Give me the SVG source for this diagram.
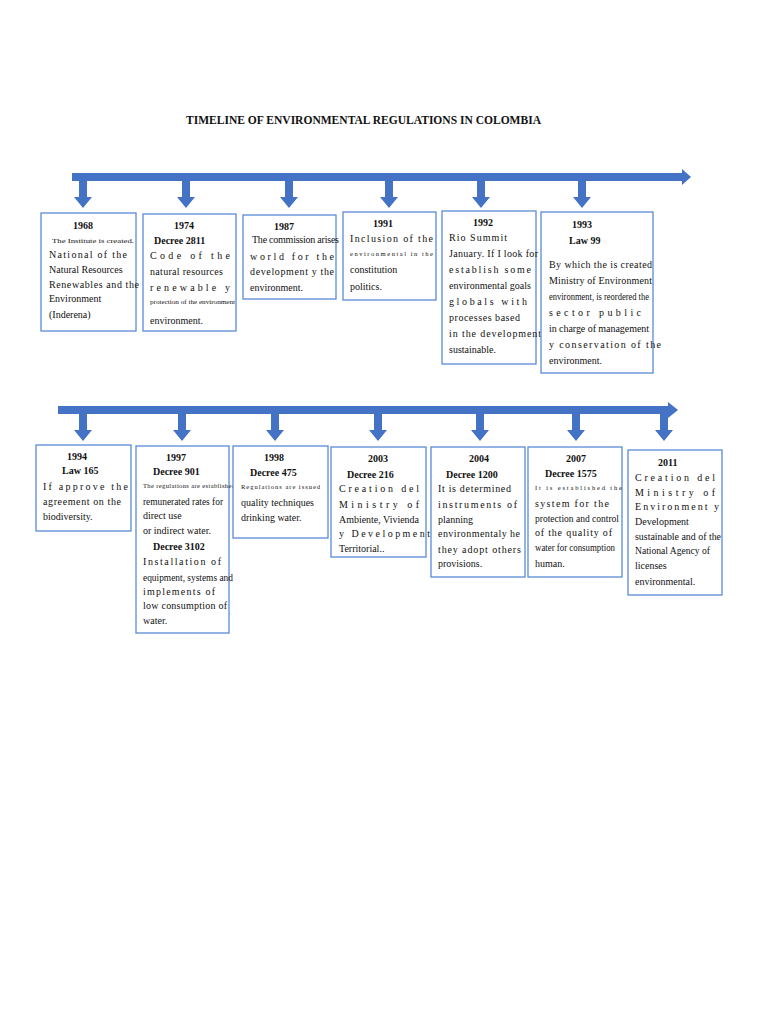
<svg xmlns="http://www.w3.org/2000/svg" width="768" height="1024" viewBox="0 0 768 1024">
<style>
.bar{fill:#4472C4}
.box{fill:#fff;stroke:#5b8ad8;stroke-width:1.3}
text{font-family:"Liberation Serif",serif;font-size:10px;fill:#111}
.b{font-weight:bold}
.s{font-size:6.5px}
.t{font-weight:bold;font-size:13px}
</style>
<defs>
<path id="da" d="M-4,0 h8 v16 h5 l-9,11 l-9,-11 h5 z"/>
</defs>
<rect width="768" height="1024" fill="#fff"/>
<text class="t" x="186" y="124" textLength="355" lengthAdjust="spacingAndGlyphs">TIMELINE OF ENVIRONMENTAL REGULATIONS IN COLOMBIA</text>
<g id="connectors" class="bar">
<path d="M72,173 H682 V169 L691,177 L682,185 V181 H72 z"/>
<use href="#da" x="83" y="181"/><use href="#da" x="186" y="181"/><use href="#da" x="289" y="181"/>
<use href="#da" x="389" y="181"/><use href="#da" x="481" y="181"/><use href="#da" x="582" y="181"/>
<path d="M58,406 H668 V402 L678,410 L668,418 V414 H58 z"/>
<use href="#da" x="83" y="414"/><use href="#da" x="182" y="414"/><use href="#da" x="275" y="414"/>
<use href="#da" x="378" y="414"/><use href="#da" x="480" y="414"/><use href="#da" x="576" y="414"/><use href="#da" x="664" y="414"/>
</g>
<g id="n1968"><rect class="box" x="41" y="213" width="95" height="118"/>
<text class="b" x="73" y="229">1968</text>
<text class="s" x="52" y="243" font-size="7.5" textLength="82" lengthAdjust="spacingAndGlyphs">The Institute is created.</text>
<text x="49" y="258" textLength="78" lengthAdjust="spacing">National of the</text>
<text x="49" y="273">Natural Resources</text>
<text x="49" y="288" textLength="90" lengthAdjust="spacing">Renewables and the</text>
<text x="49" y="302">Environment</text>
<text x="49" y="318">(Inderena)</text></g>
<g id="n1974"><rect class="box" x="143" y="214" width="93" height="117"/>
<text class="b" x="174" y="229">1974</text>
<text class="b" x="154" y="244">Decree 2811</text>
<text x="150" y="259" textLength="80" lengthAdjust="spacing">Code of the</text>
<text x="150" y="275" textLength="73" lengthAdjust="spacing">natural resources</text>
<text x="150" y="291" textLength="80" lengthAdjust="spacing">renewable y</text>
<text class="s" x="150" y="304" textLength="85" lengthAdjust="spacingAndGlyphs">protection of the environment</text>
<text x="150" y="324">environment.</text></g>
<g id="n1987"><rect class="box" x="243" y="215" width="93" height="84"/>
<text class="b" x="274" y="230">1987</text>
<text x="252" y="243" textLength="87" lengthAdjust="spacing">The commission arises</text>
<text x="250" y="260" textLength="84" lengthAdjust="spacing">world for the</text>
<text x="250" y="275" textLength="84" lengthAdjust="spacing">development y the</text>
<text x="250" y="291">environment.</text></g>
<g id="n1991"><rect class="box" x="343" y="212" width="93" height="88"/>
<text class="b" x="373" y="227">1991</text>
<text x="350" y="242" textLength="83" lengthAdjust="spacing">Inclusion of the</text>
<text class="s" x="350" y="256" textLength="83" lengthAdjust="spacing">environmental in the</text>
<text x="350" y="273">constitution</text>
<text x="350" y="290">politics.</text></g>
<g id="n1992"><rect class="box" x="442" y="211" width="94" height="153"/>
<text class="b" x="473" y="226">1992</text>
<text x="449" y="241" textLength="58" lengthAdjust="spacing">Rio Summit</text>
<text x="449" y="257" font-size="8.5" textLength="89" lengthAdjust="spacing">January. If I look for</text>
<text x="449" y="273" textLength="82" lengthAdjust="spacing">establish some</text>
<text x="449" y="289" textLength="82" lengthAdjust="spacing">environmental goals</text>
<text x="449" y="305" textLength="78" lengthAdjust="spacing">globals with</text>
<text x="449" y="321" textLength="71" lengthAdjust="spacing">processes based</text>
<text x="449" y="337" textLength="92" lengthAdjust="spacing">in the development</text>
<text x="449" y="353">sustainable.</text></g>
<g id="n1993"><rect class="box" x="541" y="212" width="112" height="161"/>
<text class="b" x="572" y="228">1993</text>
<text class="b" x="569" y="244">Law 99</text>
<text x="549" y="268" textLength="103" lengthAdjust="spacing">By which the is created</text>
<text x="549" y="284" textLength="103" lengthAdjust="spacing">Ministry of Environment</text>
<text x="549" y="300" font-size="9" textLength="100" lengthAdjust="spacingAndGlyphs">environment, is reordered the</text>
<text x="549" y="316" textLength="92" lengthAdjust="spacing">sector public</text>
<text x="549" y="332" textLength="100" lengthAdjust="spacing">in charge of management</text>
<text x="549" y="348" textLength="112" lengthAdjust="spacing">y conservation of the</text>
<text x="549" y="364">environment.</text></g>
<g id="n1994"><rect class="box" x="36" y="445" width="95" height="86"/>
<text class="b" x="67" y="460">1994</text>
<text class="b" x="62" y="474">Law 165</text>
<text x="43" y="490" textLength="85" lengthAdjust="spacing">If approve the</text>
<text x="43" y="505" textLength="78" lengthAdjust="spacing">agreement on the</text>
<text x="43" y="520">biodiversity.</text></g>
<g id="n1997"><rect class="box" x="136" y="446" width="93" height="187"/>
<text class="b" x="166" y="461">1997</text>
<text class="b" x="153" y="475">Decree 901</text>
<text class="s" x="143" y="488" textLength="92" lengthAdjust="spacing">The regulations are established</text>
<text x="143" y="505" textLength="80" lengthAdjust="spacingAndGlyphs">remunerated rates for</text>
<text x="143" y="519">direct use</text>
<text x="143" y="534">or indirect water.</text>
<text class="b" x="153" y="550">Decree 3102</text>
<text x="143" y="565" textLength="78" lengthAdjust="spacing">Installation of</text>
<text x="143" y="581" textLength="90" lengthAdjust="spacingAndGlyphs">equipment, systems and</text>
<text x="143" y="595" textLength="72" lengthAdjust="spacing">implements of</text>
<text x="143" y="609" textLength="84" lengthAdjust="spacing">low consumption of</text>
<text x="143" y="624">water.</text></g>
<g id="n1998"><rect class="box" x="233" y="446" width="95" height="92"/>
<text class="b" x="264" y="461">1998</text>
<text class="b" x="250" y="476">Decree 475</text>
<text class="s" x="241" y="489" font-size="7.5" textLength="79" lengthAdjust="spacing">Regulations are issued</text>
<text x="241" y="506" textLength="73" lengthAdjust="spacing">quality techniques</text>
<text x="241" y="521">drinking water.</text></g>
<g id="n2003"><rect class="box" x="331" y="447" width="95" height="110"/>
<text class="b" x="368" y="462">2003</text>
<text class="b" x="347" y="478">Decree 216</text>
<text x="339" y="492" textLength="80" lengthAdjust="spacing">Creation del</text>
<text x="339" y="508" textLength="80" lengthAdjust="spacing">Ministry of</text>
<text x="339" y="523" textLength="80" lengthAdjust="spacingAndGlyphs">Ambiente, Vivienda</text>
<text x="339" y="537" textLength="91" lengthAdjust="spacing">y Development</text>
<text x="339" y="552">Territorial..</text></g>
<g id="n2004"><rect class="box" x="431" y="447" width="94" height="130"/>
<text class="b" x="469" y="462">2004</text>
<text class="b" x="446" y="478">Decree 1200</text>
<text x="438" y="492" textLength="73" lengthAdjust="spacing">It is determined</text>
<text x="438" y="508" textLength="79" lengthAdjust="spacing">instruments of</text>
<text x="438" y="523">planning</text>
<text x="438" y="537" textLength="82" lengthAdjust="spacing">environmentaly he</text>
<text x="438" y="553" textLength="83" lengthAdjust="spacing">they adopt others</text>
<text x="438" y="567">provisions.</text></g>
<g id="n2007"><rect class="box" x="528" y="447" width="94" height="130"/>
<text class="b" x="566" y="462">2007</text>
<text class="b" x="545" y="477">Decree 1575</text>
<text class="s" x="535" y="490" font-size="7.5" textLength="87" lengthAdjust="spacing">It is established the</text>
<text x="535" y="507" textLength="74" lengthAdjust="spacing">system for the</text>
<text x="535" y="522" textLength="84" lengthAdjust="spacingAndGlyphs">protection and control</text>
<text x="535" y="536" textLength="77" lengthAdjust="spacing">of the quality of</text>
<text x="535" y="551" textLength="80" lengthAdjust="spacingAndGlyphs">water for consumption</text>
<text x="535" y="567">human.</text></g>
<g id="n2011"><rect class="box" x="628" y="450" width="94" height="145"/>
<text class="b" x="658" y="466">2011</text>
<text x="635" y="481" textLength="80" lengthAdjust="spacing">Creation del</text>
<text x="635" y="496" textLength="80" lengthAdjust="spacing">Ministry of</text>
<text x="635" y="510" textLength="84" lengthAdjust="spacing">Environment y</text>
<text x="635" y="525">Development</text>
<text x="635" y="540" font-size="9.5" textLength="86" lengthAdjust="spacingAndGlyphs">sustainable and of the</text>
<text x="635" y="554" textLength="75" lengthAdjust="spacingAndGlyphs">National Agency of</text>
<text x="635" y="569">licenses</text>
<text x="635" y="585">environmental.</text></g>
</svg>
